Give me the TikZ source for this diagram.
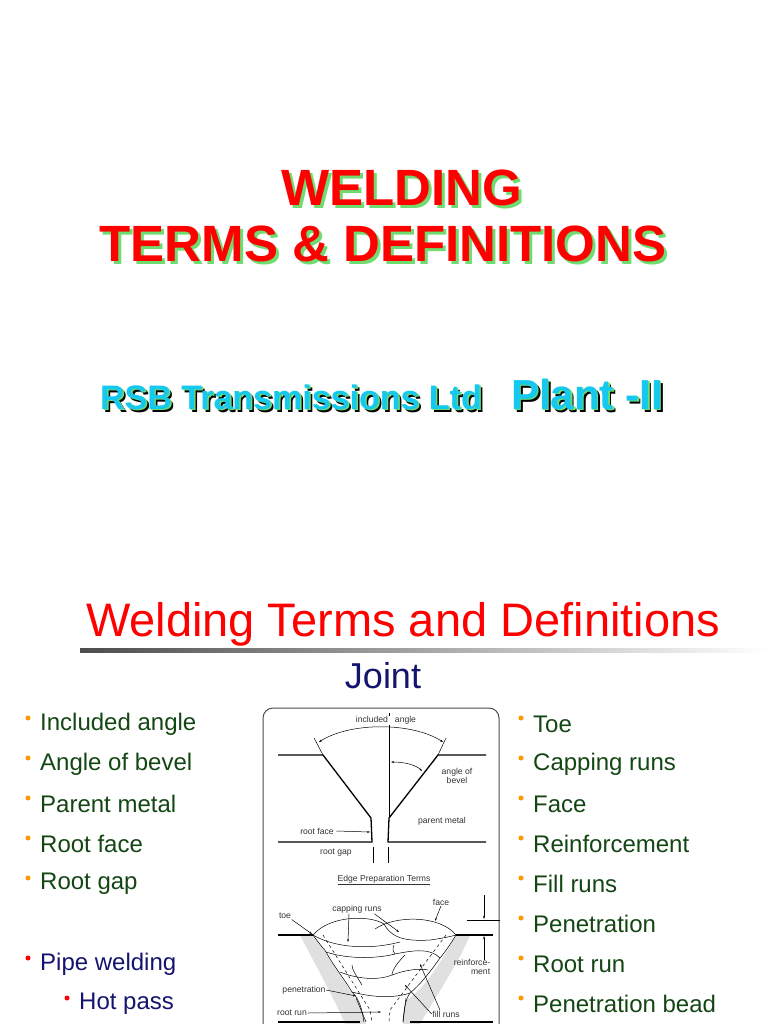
\documentclass[tikz,border=0pt]{standalone}
\usepackage{fontspec}
\setmainfont{Liberation Sans}
\usetikzlibrary{arrows.meta}
\definecolor{tgreen}{RGB}{110,220,110}
\definecolor{cyanc}{RGB}{20,200,240}
\definecolor{dgreen}{RGB}{20,70,20}
\definecolor{navy}{RGB}{20,20,110}
\definecolor{orng}{RGB}{255,150,0}
\tikzset{
 lbl/.style={font=\fontsize{8.6}{9}\selectfont, text=black!80, inner sep=0.5pt},
 thk/.style={line width=1.3pt},
 thn/.style={line width=0.5pt},
 arr/.style={thn,-{Stealth[length=3pt,width=2pt]}},
 item/.style={anchor=west, font=\fontsize{24}{26}\selectfont, text=dgreen, inner sep=0},
 bitem/.style={anchor=west, font=\fontsize{24}{26}\selectfont, text=navy, inner sep=0},
 dot/.style={circle, fill=#1, inner sep=0, minimum size=5pt},
}
\begin{document}
\begin{tikzpicture}[x=1pt,y=-1pt]
\useasboundingbox (0,0) rectangle (768,1024);
% titles
\foreach \dx/\c in {3/tgreen,0/red}{
 \node[font=\bfseries\fontsize{51}{52}\selectfont, text=\c] (t1\c) at (402+\dx,188+\dx) {WELDING};
 \node[font=\bfseries\fontsize{51}{52}\selectfont, text=\c] (t2\c) at (383+\dx,244+\dx) {TERMS \& DEFINITIONS};
}
\foreach \dx/\c in {3/black,1.5/tgreen,0/cyanc}{
 \node[font=\bfseries\fontsize{34}{36}\selectfont, text=\c, anchor=west, inner sep=0] (s1\c) at (100+\dx,397+\dx) {RSB Transmissions Ltd};
 \node[font=\bfseries\fontsize{42}{44}\selectfont, text=\c, anchor=west, inner sep=0] (s2\c) at (511+\dx,394+\dx) {Plant -II};
}
\node[font=\fontsize{47}{50}\selectfont, text=red] (h) at (403,624) {Welding Terms and Definitions};
\shade[left color=black!70, right color=white] (80,648) rectangle (768,652);
\node[font=\fontsize{36}{38}\selectfont, text=navy] (joint) at (383,676) {Joint};
% left bullets
\foreach \t [count=\i] in {Included angle,Angle of bevel,Parent metal,Root face,Root gap}{
 \node[dot=orng] (lb\i) at (28,{678+40*\i}) {};
 \node[item] (l\i) at (40,{684+40*\i}) {\t};
}
\node[dot=red] (pb) at (28,958) {};
\node[bitem] (pw) at (40,964) {Pipe welding};
\node[dot=red] (hb) at (67,998) {};
\node[bitem] (hp) at (79,1004) {Hot pass};
\foreach \t [count=\i] in {Toe,Capping runs,Face,Reinforcement,Fill runs,Penetration,Root run,Penetration bead}{
 \node[dot=orng] (rb\i) at (521,{678+40*\i}) {};
 \node[item] (r\i) at (533,{684+40*\i}) {\t};
}
% diagram box
\draw[line width=1pt, black!70, rounded corners=10pt] (263,1030) -- (263,708) -- (499,708) -- (499,1030);
% top joint
\draw[thk] (278,755) -- (323,755) -- (371,818) -- (372,842) -- (278,842);
\draw[thk] (486,842) -- (388,842) -- (389,818) -- (438,755) -- (486,755);
\draw[thn] (389,713) -- (389,818);
\draw[thn] (323,755) -- (314,738);
\draw[thn] (438,755) -- (446,738);
\draw[thn,{Stealth[length=3pt,width=2pt]}-{Stealth[length=3pt,width=2pt]}] (319,742) .. controls (350,722) and (412,722) .. (443,742);
\draw[thn,{Stealth[length=3pt,width=2pt]}-{Stealth[length=3pt,width=2pt]}] (391,762) .. controls (405,762) and (416,765) .. (422,771);
\node[lbl, fill=white] (ia) at (386,720) {included\hspace{7pt}angle};
\node[lbl, align=center] (ab) at (457,776) {angle of\\bevel};
\node[lbl] (pm) at (442,821) {parent metal};
\node[lbl] (rf) at (317,831) {root face};
\coordinate (rfp) at (370,832);
\draw[arr] (rf.east) ++(2,0) -- (rfp);
\node[lbl] (rg) at (336,853) {root gap};
\draw[thn] (373,847) -- (373,863) (388,847) -- (388,863);
\node[lbl] (ept) at (384,880) {\underline{Edge Preparation Terms}};
% HAZ shading
\fill[black!12] (300,935) .. controls (318,970) and (335,1000) .. (345,1024) -- (420,1024) .. controls (440,990) and (460,960) .. (470,935) -- (456,935) .. controls (445,955) and (425,990) .. (406,1000) -- (356,1000) .. controls (340,975) and (325,950) .. (313,935) -- cycle;
\fill[white] (313,935) .. controls (325,950) and (340,975) .. (356,998) -- (366,1024) -- (403,1024) -- (406,998) .. controls (425,985) and (445,955) .. (456,935) -- cycle;
\draw[thk] (278,935) -- (313,935);
\draw[thk] (456,935) -- (493,935);
\draw[thk] (278,1022) -- (360,1022) (410,1022) -- (493,1022);
% groove outline
\draw[thn] (313,935) .. controls (320,945) and (325,950) .. (326,952) .. controls (335,968) and (345,980) .. (352,992) .. controls (360,1000) and (362,1010) .. (364,1022);
\draw[thn] (456,935) .. controls (450,945) and (445,952) .. (440,958) .. controls (430,972) and (420,985) .. (410,993) .. controls (405,1000) and (404,1010) .. (403,1022);
% caps
\draw[thn] (313,935) .. controls (330,915) and (370,915) .. (384,924) .. controls (390,935) and (400,942) .. (430,940) .. controls (445,938) and (452,936) .. (456,935);
\draw[thn] (313,935) .. controls (335,948) and (370,950) .. (400,942);
\draw[thn] (375,929) .. controls (395,915) and (440,915) .. (456,935);
% fill runs
\draw[thn] (326,952) .. controls (350,960) and (380,958) .. (395,954) .. controls (415,950) and (430,948) .. (440,958);
\draw[thn] (394,945) .. controls (392,950) and (393,952) .. (395,954);
\draw[thn] (340,972) .. controls (360,980) and (380,980) .. (392,975) .. controls (405,970) and (420,968) .. (428,970);
\draw[thn] (405,955) .. controls (398,962) and (392,970) .. (392,975);
\draw[thn] (352,992) .. controls (375,998) and (395,998) .. (410,993);
\draw[thn] (362,985) .. controls (356,975) and (352,970) .. (352,965);
\draw[thn] (356,998) -- (366,1022) (406,998) -- (403,1022);
\draw[thn, dashed] (323,935) -- (370,1010) -- (372,1022);
\draw[thn, dashed] (446,935) -- (390,1010) -- (389,1022);
% labels bottom
\node[lbl] (toe) at (285,916) {toe};
\coordinate (toep) at (312,934);
\draw[arr] (toe.south east) -- (toep);
\node[lbl] (cr) at (357,909) {capping runs};
\coordinate (cr1) at (348,942);
\coordinate (cr2) at (399,932);
\draw[arr] (cr.south) ++(-8,0) -- (cr1);
\draw[arr] (cr.south east) ++(-8,0) -- (cr2);
\node[lbl] (fc) at (441,902) {face};
\coordinate (fcp) at (435,921);
\draw[arr] (fc.south) -- (fcp);
\coordinate (rt) at (484,895);
\coordinate (rm) at (484,919);
\draw[arr] (rt) -- (rm);
\draw[thn] (467,920) -- (500,920);
\coordinate (rb) at (484,960);
\coordinate (rm2) at (484,936);
\draw[arr] (rb) -- (rm2);
\node[lbl, align=right] (reinf) at (472,967) {reinforce-\\ment};
\node[lbl, fill=white] (pen) at (304,990) {penetration};
\coordinate (penp) at (356,996);
\draw[arr] (pen.east) -- (penp);
\node[lbl] (fr) at (446,1014) {fill runs};
\coordinate (fr1) at (420,964);
\coordinate (fr2) at (405,985);
\draw[arr] (fr.north) ++(-6,0) -- (fr1);
\draw[arr] (fr.west) -- (fr2);
\node[lbl] (rr) at (292,1013) {root run};
\coordinate (rrp) at (381,1012);
\draw[arr] (rr.east) -- (rrp);
\end{tikzpicture}
\end{document}
